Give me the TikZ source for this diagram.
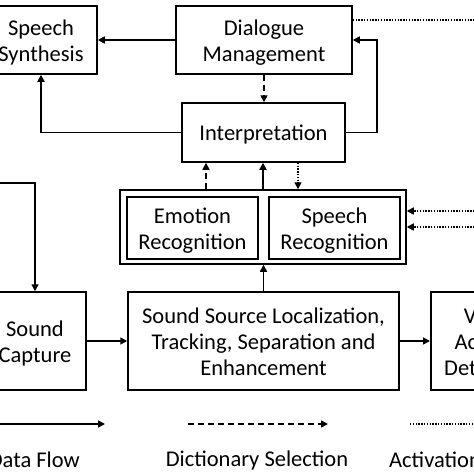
\documentclass[tikz,border=0pt]{standalone}
\usepackage{fontspec}
\setmainfont{Carlito}
\usetikzlibrary{arrows.meta}
\newcommand{\mystrut}{\rule[-5pt]{0pt}{26pt}}
\begin{document}
\begin{tikzpicture}[x=1pt,y=-1pt,
  box/.style={draw,line width=1.5pt,align=center,inner sep=0pt,font=\fontsize{22.5}{26}\selectfont},
  lbl/.style={inner sep=0pt,font=\fontsize{22.5}{26}\selectfont},
  tip/.style={-{Triangle[length=7pt,width=7pt]}},
  flow/.style={line width=1.5pt,tip},
  dict/.style={line width=1.5pt,dash pattern=on 6pt off 4pt,tip},
  act/.style={line width=1.4pt,dash pattern=on 1.4pt off 1.4pt},
  actarrow/.style={act,tip}]
\useasboundingbox (0,0) rectangle (474,474);
% nodes
\node[box,minimum width=112pt,minimum height=68pt] (ss) at (41,40) {\mystrut Speech\\Synthesis\mystrut};
\node[box,minimum width=176pt,minimum height=68pt] (dm) at (264,40) {\mystrut Dialogue\\Management\mystrut};
\node[box,minimum width=163pt,minimum height=59pt] (interp) at (263.5,132.5) {\mystrut Interpretation\mystrut};
\node[draw,line width=1.5pt,minimum width=286pt,minimum height=74pt] (outer) at (263,227) {};
\node[box,minimum width=131pt,minimum height=62pt] (er) at (192.5,228) {\mystrut Emotion\\Recognition\mystrut};
\node[box,minimum width=131pt,minimum height=62pt] (sr) at (334.5,228) {\mystrut Speech\\Recognition\mystrut};
\node[box,minimum width=102pt,minimum height=98pt] (sc) at (35,341) {\mystrut Sound\\Capture\mystrut};
\node[box,minimum width=271pt,minimum height=98pt] (ssl) at (263.5,341) {\mystrut Sound Source Localization,\\Tracking, Separation and\\Enhancement\mystrut};
\node[box,minimum width=116pt,minimum height=98pt,anchor=west] (vad) at (430,341) {\mystrut Voice\\Activity\\Detection\mystrut};
% helper coordinates
\coordinate (dmout) at (480,20);
\coordinate (xe) at (206,0);
\coordinate (xs) at (298,0);
\coordinate (r1) at (480,211);
\coordinate (r2) at (480,227);
\coordinate (lin) at (-5,183);
% connectors
\draw[flow] (dm.west) -- (ss.east);
\draw[flow] (interp.west) -| (ss.south);
\draw[dict] (dm.south) -- (dm.south |- interp.north);
\draw[flow] (interp.east) -- ++(31,0) |- (dm.east);
\draw[act] (dm.east |- dmout) -- (dmout);
\draw[flow] (outer.north) -- (outer.north |- interp.south);
\draw[dict] (xe |- outer.north) -- (xe |- interp.south);
\draw[actarrow] (xs |- interp.south) -- (xs |- outer.north);
\draw[actarrow] (r1) -- (r1 -| outer.east);
\draw[actarrow] (r2) -- (r2 -| outer.east);
\draw[flow] (ssl.north) -- (ssl.north |- outer.south);
\draw[flow] (lin) -| (sc.north);
\draw[flow] (sc.east) -- (ssl.west);
\draw[flow] (ssl.east) -- (vad.west);
% legend
\coordinate (l1s) at (-5,424);
\coordinate (l1e) at (105,424);
\coordinate (l2s) at (188,424);
\coordinate (l2e) at (328,424);
\coordinate (l3s) at (410,424);
\coordinate (l3e) at (480,424);
\draw[flow] (l1s) -- (l1e);
\draw[dict] (l2s) -- (l2e);
\draw[act] (l3s) -- (l3e);
\node[lbl,anchor=east] (t1) at (80,460) {Data Flow};
\node[lbl] (t2) at (257,460) {Dictionary Selection};
\node[lbl,anchor=west] (t3) at (389,460) {Activation};
\end{tikzpicture}
\end{document}
